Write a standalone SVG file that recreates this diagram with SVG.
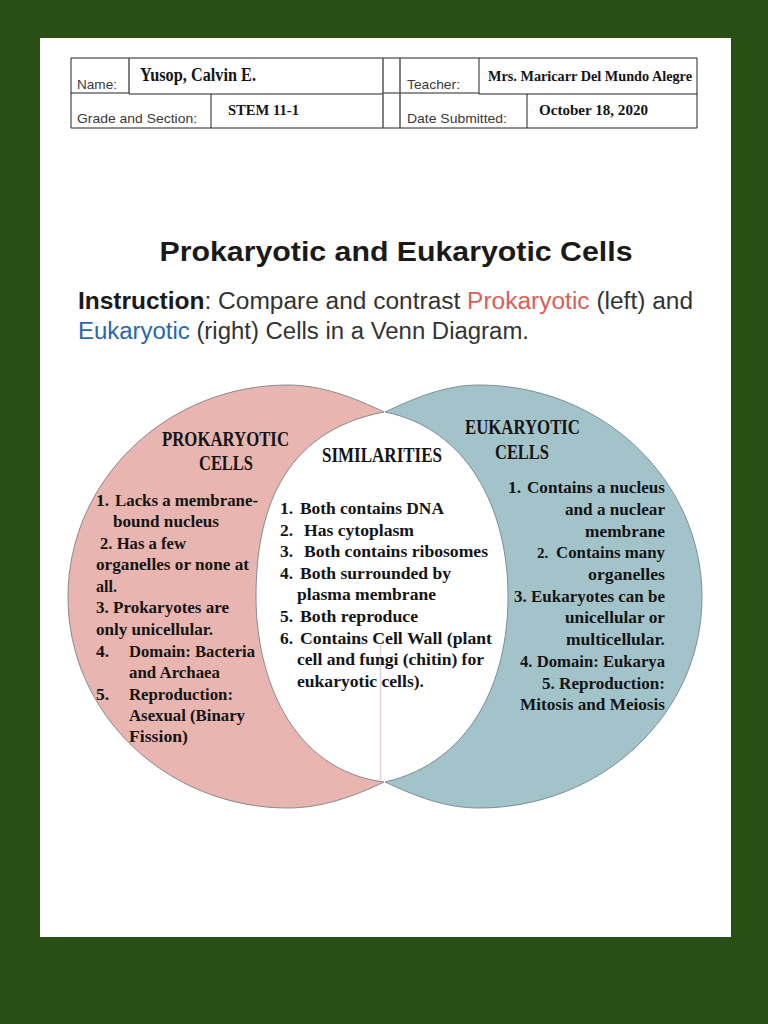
<svg xmlns="http://www.w3.org/2000/svg" width="768" height="1024" viewBox="0 0 768 1024">
<style>
.a{font-family:"Liberation Sans",Arial,sans-serif;font-size:13.500px;fill:#3a3a3a}
.b{font-family:"Liberation Serif","Times New Roman",serif;font-weight:700;fill:#141414}
.m{font-size:17.500px}
.h{font-size:20.500px}
.l{stroke:#222;stroke-width:1;fill:none}
.g{stroke:#555;stroke-width:1.500;fill:none}
.p{font-family:"Liberation Sans",Arial,sans-serif;font-size:23px}
.o{stroke-width:1}
</style>
<rect width="768" height="1024" fill="#2a4f15"/>
<rect x="40" y="38" width="691" height="899" fill="#fff"/>
<g id="header-table">
<path class="l" d="M71 58H697V128H71ZM71 93H129M129 94H383M211 94V128M383 93H400M400 93H479M479 94H697M479 58V94M527 94V128"/>
<path class="g" d="M129 58V94M383 58V128M400 58V128"/>
<text class="a" x="77" y="89" textLength="40" lengthAdjust="spacingAndGlyphs">Name:</text>
<text class="a" x="77" y="123" textLength="120" lengthAdjust="spacingAndGlyphs">Grade and Section:</text>
<text class="a" x="407" y="89" textLength="53" lengthAdjust="spacingAndGlyphs">Teacher:</text>
<text class="a" x="407" y="123" textLength="100" lengthAdjust="spacingAndGlyphs">Date Submitted:</text>
<text class="b" x="140" y="81" font-size="18.500" textLength="116" lengthAdjust="spacingAndGlyphs">Yusop, Calvin E.</text>
<text class="b" x="228" y="115" font-size="15" textLength="71" lengthAdjust="spacingAndGlyphs">STEM 11-1</text>
<text class="b" x="488" y="81" font-size="15.500" textLength="204" lengthAdjust="spacingAndGlyphs">Mrs. Maricarr Del Mundo Alegre</text>
<text class="b" x="539" y="115" font-size="15.500" textLength="109" lengthAdjust="spacingAndGlyphs">October 18, 2020</text>
</g>
<g id="title">
<text x="396" y="261" text-anchor="middle" font-family="Liberation Sans,Arial,sans-serif" font-weight="700" font-size="27.500" fill="#1a1a1a" textLength="473" lengthAdjust="spacingAndGlyphs">Prokaryotic and Eukaryotic Cells</text>
</g>
<g id="instruction" class="p" fill="#333">
<text x="78" y="309" textLength="615" lengthAdjust="spacingAndGlyphs"><tspan font-weight="700" fill="#1a1a1a">Instruction</tspan>: Compare and contrast <tspan fill="#d9605a">Prokaryotic</tspan> (left) and</text>
<text x="78" y="339" textLength="451" lengthAdjust="spacingAndGlyphs"><tspan fill="#2a66b0">Eukaryotic</tspan> (right) Cells in a Venn Diagram.</text>
</g>
<g id="venn-shapes">
<path class="o" fill="#e8b5b0" stroke="#8a8a8a" d="M384 412C355 398 322 385 288 385C167 385 68 480 68 597C68 714 167 808 288 808C322 808 355 796 384 782C290 770 256 675 256 597C256 515 280 432 384 412Z"/>
<path class="o" fill="#a3c3cb" stroke="#7d8f93" d="M385 412C415 398 445 385 479 385C602 385 702 480 702 597C702 714 602 808 479 808C445 808 415 796 385 782C472 762 508 680 508 597C508 505 465 428 385 412Z"/>
<path d="M380.500 645V781" stroke="#e3d3d6" stroke-width="1.500" fill="none"/>
</g>
<g id="prokaryotic" class="b">
<text class="h" x="162" y="446" textLength="127" lengthAdjust="spacingAndGlyphs">PROKARYOTIC</text>
<text class="h" x="199" y="470" textLength="54" lengthAdjust="spacingAndGlyphs">CELLS</text>
<g class="m">
<text x="96" y="506">1.</text>
<text x="115" y="506" textLength="143" lengthAdjust="spacingAndGlyphs">Lacks a membrane-</text>
<text x="113" y="527" textLength="106" lengthAdjust="spacingAndGlyphs">bound nucleus</text>
<text x="100" y="549" textLength="86" lengthAdjust="spacingAndGlyphs">2. Has a few</text>
<text x="96" y="570" textLength="153" lengthAdjust="spacingAndGlyphs">organelles or none at</text>
<text x="96" y="592" textLength="21" lengthAdjust="spacingAndGlyphs">all.</text>
<text x="96" y="613" textLength="133" lengthAdjust="spacingAndGlyphs">3. Prokaryotes are</text>
<text x="96" y="635" textLength="117" lengthAdjust="spacingAndGlyphs">only unicellular.</text>
<text x="96" y="657">4.</text>
<text x="129" y="657" textLength="126" lengthAdjust="spacingAndGlyphs">Domain: Bacteria</text>
<text x="129" y="678" textLength="91" lengthAdjust="spacingAndGlyphs">and Archaea</text>
<text x="96" y="700">5.</text>
<text x="129" y="700" textLength="104" lengthAdjust="spacingAndGlyphs">Reproduction:</text>
<text x="129" y="721" textLength="116" lengthAdjust="spacingAndGlyphs">Asexual (Binary</text>
<text x="129" y="742" textLength="59" lengthAdjust="spacingAndGlyphs">Fission)</text>
</g>
</g>
<g id="similarities" class="b">
<text class="h" x="322" y="462" textLength="120" lengthAdjust="spacingAndGlyphs">SIMILARITIES</text>
<g class="m">
<text x="280" y="514">1.</text>
<text x="300" y="514" textLength="144" lengthAdjust="spacingAndGlyphs">Both contains DNA</text>
<text x="280" y="536">2.</text>
<text x="304" y="536" textLength="110" lengthAdjust="spacingAndGlyphs">Has cytoplasm</text>
<text x="280" y="557">3.</text>
<text x="304" y="557" textLength="184" lengthAdjust="spacingAndGlyphs">Both contains ribosomes</text>
<text x="280" y="579">4.</text>
<text x="300" y="579" textLength="151" lengthAdjust="spacingAndGlyphs">Both surrounded by</text>
<text x="297" y="600" textLength="139" lengthAdjust="spacingAndGlyphs">plasma membrane</text>
<text x="280" y="622">5.</text>
<text x="300" y="622" textLength="118" lengthAdjust="spacingAndGlyphs">Both reproduce</text>
<text x="280" y="644">6.</text>
<text x="300" y="644" textLength="192" lengthAdjust="spacingAndGlyphs">Contains Cell Wall (plant</text>
<text x="297" y="665" textLength="187" lengthAdjust="spacingAndGlyphs">cell and fungi (chitin) for</text>
<text x="297" y="687" textLength="127" lengthAdjust="spacingAndGlyphs">eukaryotic cells).</text>
</g>
</g>
<g id="eukaryotic" class="b">
<text class="h" x="465" y="434" textLength="115" lengthAdjust="spacingAndGlyphs">EUKARYOTIC</text>
<text class="h" x="495" y="459" textLength="54" lengthAdjust="spacingAndGlyphs">CELLS</text>
<g class="m">
<text x="508" y="493">1.</text>
<text x="527" y="493" textLength="138" lengthAdjust="spacingAndGlyphs">Contains a nucleus</text>
<text x="565" y="515" textLength="100" lengthAdjust="spacingAndGlyphs">and a nuclear</text>
<text x="585" y="537" textLength="80" lengthAdjust="spacingAndGlyphs">membrane</text>
<text x="537" y="558" font-size="15">2.</text>
<text x="556" y="558" textLength="109" lengthAdjust="spacingAndGlyphs">Contains many</text>
<text x="588" y="580" textLength="77" lengthAdjust="spacingAndGlyphs">organelles</text>
<text x="514" y="602" textLength="151" lengthAdjust="spacingAndGlyphs">3. Eukaryotes can be</text>
<text x="565" y="623" textLength="100" lengthAdjust="spacingAndGlyphs">unicellular or</text>
<text x="566" y="645" textLength="99" lengthAdjust="spacingAndGlyphs">multicellular.</text>
<text x="520" y="667" textLength="145" lengthAdjust="spacingAndGlyphs">4. Domain: Eukarya</text>
<text x="542" y="689" textLength="123" lengthAdjust="spacingAndGlyphs">5. Reproduction:</text>
<text x="520" y="710" textLength="145" lengthAdjust="spacingAndGlyphs">Mitosis and Meiosis</text>
</g>
</g>
</svg>
